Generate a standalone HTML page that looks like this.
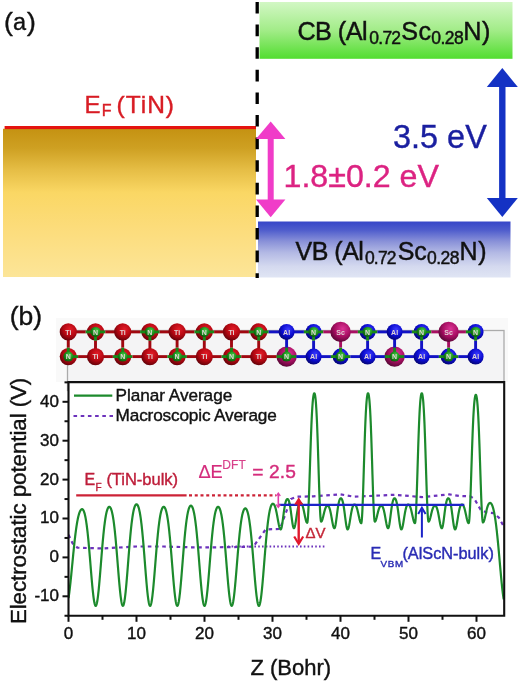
<!DOCTYPE html>
<html><head><meta charset="utf-8"><style>
html,body{margin:0;padding:0;background:#fff;}
svg{display:block;font-family:'Liberation Sans', Arial, sans-serif;}
</style></head><body>
<svg width="520" height="683" viewBox="0 0 520 683">
<defs>
<linearGradient id="gold" x1="0" y1="0" x2="0" y2="1">
 <stop offset="0" stop-color="#c59212"/>
 <stop offset="0.13" stop-color="#cea022"/>
 <stop offset="0.28" stop-color="#e6be46"/>
 <stop offset="0.43" stop-color="#fad764"/>
 <stop offset="0.66" stop-color="#fcdc7a"/>
 <stop offset="1" stop-color="#fce598"/>
</linearGradient>
<linearGradient id="cbg" x1="0" y1="0" x2="0" y2="1">
 <stop offset="0" stop-color="#d2f7c4"/>
 <stop offset="0.5" stop-color="#a2ec88"/>
 <stop offset="1" stop-color="#52dd30"/>
</linearGradient>
<linearGradient id="vbg" x1="0" y1="0" x2="0" y2="1">
 <stop offset="0" stop-color="#3646c8"/>
 <stop offset="0.15" stop-color="#4e5ccc"/>
 <stop offset="0.35" stop-color="#8890d8"/>
 <stop offset="0.55" stop-color="#b2b8e4"/>
 <stop offset="0.8" stop-color="#d4d9ef"/>
 <stop offset="1" stop-color="#e0e5f4"/>
</linearGradient>
<radialGradient id="gTi" cx="0.6" cy="0.35" r="0.7">
 <stop offset="0" stop-color="#e41c28"/>
 <stop offset="0.55" stop-color="#b40812"/>
 <stop offset="1" stop-color="#5c0008"/>
</radialGradient>
<radialGradient id="gN" cx="0.6" cy="0.35" r="0.7">
 <stop offset="0" stop-color="#48d048"/>
 <stop offset="0.6" stop-color="#188818"/>
 <stop offset="1" stop-color="#0a500a"/>
</radialGradient>
<radialGradient id="gAl" cx="0.6" cy="0.35" r="0.7">
 <stop offset="0" stop-color="#3a3aff"/>
 <stop offset="0.55" stop-color="#0c0cd0"/>
 <stop offset="1" stop-color="#04046a"/>
</radialGradient>
<radialGradient id="gSc" cx="0.6" cy="0.35" r="0.7">
 <stop offset="0" stop-color="#dc3496"/>
 <stop offset="0.55" stop-color="#a80e62"/>
 <stop offset="1" stop-color="#4e0630"/>
</radialGradient>
</defs>
<text x="3.90" y="30.80" font-size="26.5" fill="#111" stroke="#111" stroke-width="0.4">(</text>
<text x="12.90" y="30.30" font-size="23.5" fill="#111" stroke="#111" stroke-width="0.4">a</text>
<text x="26.90" y="30.80" font-size="26.5" fill="#111" stroke="#111" stroke-width="0.4">)</text>
<rect x="3" y="128.8" width="253" height="148.2" fill="url(#gold)"/>
<rect x="4.6" y="126" width="251.4" height="3.1" fill="#e41410"/>
<text x="84.60" y="112.80" font-size="24" fill="#d81c24" stroke="#d81c24" stroke-width="0.4">E</text>
<text x="101.80" y="116.20" font-size="16" fill="#d81c24" stroke="#d81c24" stroke-width="0.4">F</text>
<text x="116.50" y="113.00" font-size="24.5" fill="#d81c24" stroke="#d81c24" stroke-width="0.4" textLength="57.50">(TiN)</text>
<rect x="259.5" y="2" width="253" height="56.8" fill="url(#cbg)"/>
<text x="297.40" y="40.40" font-size="25.2" fill="#111" textLength="70.20" stroke="#111" stroke-width="0.45">CB (Al</text>
<text x="369.30" y="43.90" font-size="17.5" fill="#111" textLength="31.80" stroke="#111" stroke-width="0.45">0.72</text>
<text x="401.20" y="40.40" font-size="25.2" fill="#111" textLength="29.80" stroke="#111" stroke-width="0.45">Sc</text>
<text x="431.20" y="43.90" font-size="17.5" fill="#111" textLength="32.50" stroke="#111" stroke-width="0.45">0.28</text>
<text x="463.30" y="40.40" font-size="25.2" fill="#111" textLength="27.00" stroke="#111" stroke-width="0.45">N)</text>
<rect x="258" y="221.5" width="252.5" height="56" fill="url(#vbg)"/>
<text x="295.50" y="260.40" font-size="25.0" fill="#111" textLength="68.40" stroke="#111" stroke-width="0.45">VB (Al</text>
<text x="364.90" y="264.20" font-size="17.5" fill="#111" textLength="31.70" stroke="#111" stroke-width="0.45">0.72</text>
<text x="397.70" y="260.40" font-size="25.0" fill="#111" textLength="29.00" stroke="#111" stroke-width="0.45">Sc</text>
<text x="427.00" y="264.20" font-size="17.5" fill="#111" textLength="32.40" stroke="#111" stroke-width="0.45">0.28</text>
<text x="459.50" y="260.40" font-size="25.0" fill="#111" textLength="27.00" stroke="#111" stroke-width="0.45">N)</text>
<line x1="257.2" y1="2" x2="257.2" y2="278" stroke="#000" stroke-width="3.3" stroke-dasharray="11.6 11"/>
<rect x="499.1" y="85" width="6.4" height="114" fill="#1432c4"/>
<polygon points="502.3,68 517.8,87 486.8,87" fill="#1432c4"/>
<polygon points="502.3,217 517.8,198 486.8,198" fill="#1432c4"/>
<text x="393.10" y="148.20" font-size="32.4" fill="#1a1fa0" stroke="#1a1fa0" stroke-width="0.4">3.5 eV</text>
<rect x="267.7" y="137" width="6" height="64" fill="#f03cc8"/>
<polygon points="270.7,121.4 285.4,139 256.0,139" fill="#f03cc8"/>
<polygon points="270.7,217.2 285.4,199.6 256.0,199.6" fill="#f03cc8"/>
<text x="283.50" y="186.90" font-size="32.2" fill="#dc2382" stroke="#dc2382" stroke-width="0.4">1.8±0.2 eV</text>
<text x="9.80" y="325.40" font-size="26.5" fill="#111" stroke="#111" stroke-width="0.4">(b)</text>
<rect x="56" y="318" width="452" height="64" fill="#f9f9f9"/>
<rect x="67.5" y="330.5" width="436.5" height="60" fill="#f4f4f5" stroke="#ababab" stroke-width="1.3"/>
<circle cx="68.3" cy="356.6" r="8.6" fill="url(#gTi)"/>
<circle cx="95.5" cy="331.9" r="8.6" fill="url(#gTi)"/>
<circle cx="122.7" cy="356.6" r="8.6" fill="url(#gTi)"/>
<circle cx="149.9" cy="331.9" r="8.6" fill="url(#gTi)"/>
<circle cx="177.1" cy="356.6" r="8.6" fill="url(#gTi)"/>
<circle cx="204.3" cy="331.9" r="8.6" fill="url(#gTi)"/>
<circle cx="231.5" cy="356.6" r="8.6" fill="url(#gTi)"/>
<circle cx="258.7" cy="331.9" r="8.6" fill="url(#gTi)"/>
<circle cx="286.6" cy="356.6" r="10.2" fill="url(#gSc)"/>
<circle cx="313.6" cy="331.9" r="8.0" fill="url(#gAl)"/>
<circle cx="340.6" cy="356.6" r="8.0" fill="url(#gAl)"/>
<circle cx="367.6" cy="331.9" r="8.0" fill="url(#gAl)"/>
<circle cx="394.6" cy="356.6" r="10.2" fill="url(#gSc)"/>
<circle cx="421.6" cy="331.9" r="8.0" fill="url(#gAl)"/>
<circle cx="448.6" cy="356.6" r="8.0" fill="url(#gAl)"/>
<circle cx="475.6" cy="331.9" r="8.0" fill="url(#gAl)"/>
<line x1="68.3" y1="331.9" x2="68.3" y2="347.708" stroke="#a00810" stroke-width="2.9"/>
<line x1="68.3" y1="347.708" x2="68.3" y2="356.6" stroke="#188818" stroke-width="2.9"/>
<line x1="68.3" y1="331.9" x2="85.7" y2="331.9" stroke="#a00810" stroke-width="2.9"/>
<line x1="85.7" y1="331.9" x2="95.5" y2="331.9" stroke="#188818" stroke-width="2.9"/>
<line x1="68.3" y1="356.6" x2="78.1" y2="356.6" stroke="#188818" stroke-width="2.9"/>
<line x1="78.1" y1="356.6" x2="95.5" y2="356.6" stroke="#a00810" stroke-width="2.9"/>
<line x1="95.5" y1="331.9" x2="95.5" y2="340.792" stroke="#188818" stroke-width="2.9"/>
<line x1="95.5" y1="340.792" x2="95.5" y2="356.6" stroke="#a00810" stroke-width="2.9"/>
<line x1="95.5" y1="331.9" x2="105.3" y2="331.9" stroke="#188818" stroke-width="2.9"/>
<line x1="105.3" y1="331.9" x2="122.7" y2="331.9" stroke="#a00810" stroke-width="2.9"/>
<line x1="95.5" y1="356.6" x2="112.9" y2="356.6" stroke="#a00810" stroke-width="2.9"/>
<line x1="112.9" y1="356.6" x2="122.7" y2="356.6" stroke="#188818" stroke-width="2.9"/>
<line x1="122.7" y1="331.9" x2="122.7" y2="347.708" stroke="#a00810" stroke-width="2.9"/>
<line x1="122.7" y1="347.708" x2="122.7" y2="356.6" stroke="#188818" stroke-width="2.9"/>
<line x1="122.7" y1="331.9" x2="140.1" y2="331.9" stroke="#a00810" stroke-width="2.9"/>
<line x1="140.1" y1="331.9" x2="149.9" y2="331.9" stroke="#188818" stroke-width="2.9"/>
<line x1="122.7" y1="356.6" x2="132.5" y2="356.6" stroke="#188818" stroke-width="2.9"/>
<line x1="132.5" y1="356.6" x2="149.9" y2="356.6" stroke="#a00810" stroke-width="2.9"/>
<line x1="149.9" y1="331.9" x2="149.9" y2="340.792" stroke="#188818" stroke-width="2.9"/>
<line x1="149.9" y1="340.792" x2="149.9" y2="356.6" stroke="#a00810" stroke-width="2.9"/>
<line x1="149.9" y1="331.9" x2="159.7" y2="331.9" stroke="#188818" stroke-width="2.9"/>
<line x1="159.7" y1="331.9" x2="177.1" y2="331.9" stroke="#a00810" stroke-width="2.9"/>
<line x1="149.9" y1="356.6" x2="167.3" y2="356.6" stroke="#a00810" stroke-width="2.9"/>
<line x1="167.3" y1="356.6" x2="177.1" y2="356.6" stroke="#188818" stroke-width="2.9"/>
<line x1="177.1" y1="331.9" x2="177.1" y2="347.708" stroke="#a00810" stroke-width="2.9"/>
<line x1="177.1" y1="347.708" x2="177.1" y2="356.6" stroke="#188818" stroke-width="2.9"/>
<line x1="177.1" y1="331.9" x2="194.5" y2="331.9" stroke="#a00810" stroke-width="2.9"/>
<line x1="194.5" y1="331.9" x2="204.3" y2="331.9" stroke="#188818" stroke-width="2.9"/>
<line x1="177.1" y1="356.6" x2="186.9" y2="356.6" stroke="#188818" stroke-width="2.9"/>
<line x1="186.9" y1="356.6" x2="204.3" y2="356.6" stroke="#a00810" stroke-width="2.9"/>
<line x1="204.3" y1="331.9" x2="204.3" y2="340.792" stroke="#188818" stroke-width="2.9"/>
<line x1="204.3" y1="340.792" x2="204.3" y2="356.6" stroke="#a00810" stroke-width="2.9"/>
<line x1="204.3" y1="331.9" x2="214.1" y2="331.9" stroke="#188818" stroke-width="2.9"/>
<line x1="214.1" y1="331.9" x2="231.5" y2="331.9" stroke="#a00810" stroke-width="2.9"/>
<line x1="204.3" y1="356.6" x2="221.7" y2="356.6" stroke="#a00810" stroke-width="2.9"/>
<line x1="221.7" y1="356.6" x2="231.5" y2="356.6" stroke="#188818" stroke-width="2.9"/>
<line x1="231.5" y1="331.9" x2="231.5" y2="347.708" stroke="#a00810" stroke-width="2.9"/>
<line x1="231.5" y1="347.708" x2="231.5" y2="356.6" stroke="#188818" stroke-width="2.9"/>
<line x1="231.5" y1="331.9" x2="248.9" y2="331.9" stroke="#a00810" stroke-width="2.9"/>
<line x1="248.9" y1="331.9" x2="258.7" y2="331.9" stroke="#188818" stroke-width="2.9"/>
<line x1="231.5" y1="356.6" x2="241.3" y2="356.6" stroke="#188818" stroke-width="2.9"/>
<line x1="241.3" y1="356.6" x2="258.7" y2="356.6" stroke="#a00810" stroke-width="2.9"/>
<line x1="258.7" y1="331.9" x2="258.7" y2="340.792" stroke="#188818" stroke-width="2.9"/>
<line x1="258.7" y1="340.792" x2="258.7" y2="356.6" stroke="#a00810" stroke-width="2.9"/>
<line x1="258.7" y1="331.9" x2="268.7" y2="331.9" stroke="#188818" stroke-width="2.9"/>
<line x1="268.7" y1="331.9" x2="286.6" y2="331.9" stroke="#1212c4" stroke-width="2.9"/>
<line x1="258.7" y1="356.6" x2="276.6" y2="356.6" stroke="#a00810" stroke-width="2.9"/>
<line x1="276.6" y1="356.6" x2="286.6" y2="356.6" stroke="#188818" stroke-width="2.9"/>
<line x1="286.6" y1="331.9" x2="286.6" y2="347.708" stroke="#1212c4" stroke-width="2.9"/>
<line x1="286.6" y1="347.708" x2="286.6" y2="356.6" stroke="#188818" stroke-width="2.9"/>
<line x1="286.6" y1="331.9" x2="303.9" y2="331.9" stroke="#1212c4" stroke-width="2.9"/>
<line x1="303.9" y1="331.9" x2="313.6" y2="331.9" stroke="#188818" stroke-width="2.9"/>
<line x1="286.6" y1="356.6" x2="296.3" y2="356.6" stroke="#188818" stroke-width="2.9"/>
<line x1="296.3" y1="356.6" x2="313.6" y2="356.6" stroke="#1212c4" stroke-width="2.9"/>
<line x1="313.6" y1="331.9" x2="313.6" y2="340.792" stroke="#188818" stroke-width="2.9"/>
<line x1="313.6" y1="340.792" x2="313.6" y2="356.6" stroke="#1212c4" stroke-width="2.9"/>
<line x1="313.6" y1="331.9" x2="323.3" y2="331.9" stroke="#188818" stroke-width="2.9"/>
<line x1="323.3" y1="331.9" x2="340.6" y2="331.9" stroke="#a81062" stroke-width="2.9"/>
<line x1="313.6" y1="356.6" x2="330.9" y2="356.6" stroke="#1212c4" stroke-width="2.9"/>
<line x1="330.9" y1="356.6" x2="340.6" y2="356.6" stroke="#188818" stroke-width="2.9"/>
<line x1="340.6" y1="331.9" x2="340.6" y2="347.708" stroke="#a81062" stroke-width="2.9"/>
<line x1="340.6" y1="347.708" x2="340.6" y2="356.6" stroke="#188818" stroke-width="2.9"/>
<line x1="340.6" y1="331.9" x2="357.9" y2="331.9" stroke="#a81062" stroke-width="2.9"/>
<line x1="357.9" y1="331.9" x2="367.6" y2="331.9" stroke="#188818" stroke-width="2.9"/>
<line x1="340.6" y1="356.6" x2="350.3" y2="356.6" stroke="#188818" stroke-width="2.9"/>
<line x1="350.3" y1="356.6" x2="367.6" y2="356.6" stroke="#1212c4" stroke-width="2.9"/>
<line x1="367.6" y1="331.9" x2="367.6" y2="340.792" stroke="#188818" stroke-width="2.9"/>
<line x1="367.6" y1="340.792" x2="367.6" y2="356.6" stroke="#1212c4" stroke-width="2.9"/>
<line x1="367.6" y1="331.9" x2="377.3" y2="331.9" stroke="#188818" stroke-width="2.9"/>
<line x1="377.3" y1="331.9" x2="394.6" y2="331.9" stroke="#1212c4" stroke-width="2.9"/>
<line x1="367.6" y1="356.6" x2="384.9" y2="356.6" stroke="#1212c4" stroke-width="2.9"/>
<line x1="384.9" y1="356.6" x2="394.6" y2="356.6" stroke="#188818" stroke-width="2.9"/>
<line x1="394.6" y1="331.9" x2="394.6" y2="347.708" stroke="#1212c4" stroke-width="2.9"/>
<line x1="394.6" y1="347.708" x2="394.6" y2="356.6" stroke="#188818" stroke-width="2.9"/>
<line x1="394.6" y1="331.9" x2="411.9" y2="331.9" stroke="#1212c4" stroke-width="2.9"/>
<line x1="411.9" y1="331.9" x2="421.6" y2="331.9" stroke="#188818" stroke-width="2.9"/>
<line x1="394.6" y1="356.6" x2="404.3" y2="356.6" stroke="#188818" stroke-width="2.9"/>
<line x1="404.3" y1="356.6" x2="421.6" y2="356.6" stroke="#1212c4" stroke-width="2.9"/>
<line x1="421.6" y1="331.9" x2="421.6" y2="340.792" stroke="#188818" stroke-width="2.9"/>
<line x1="421.6" y1="340.792" x2="421.6" y2="356.6" stroke="#1212c4" stroke-width="2.9"/>
<line x1="421.6" y1="331.9" x2="431.3" y2="331.9" stroke="#188818" stroke-width="2.9"/>
<line x1="431.3" y1="331.9" x2="448.6" y2="331.9" stroke="#a81062" stroke-width="2.9"/>
<line x1="421.6" y1="356.6" x2="438.9" y2="356.6" stroke="#1212c4" stroke-width="2.9"/>
<line x1="438.9" y1="356.6" x2="448.6" y2="356.6" stroke="#188818" stroke-width="2.9"/>
<line x1="448.6" y1="331.9" x2="448.6" y2="347.708" stroke="#a81062" stroke-width="2.9"/>
<line x1="448.6" y1="347.708" x2="448.6" y2="356.6" stroke="#188818" stroke-width="2.9"/>
<line x1="448.6" y1="331.9" x2="465.9" y2="331.9" stroke="#a81062" stroke-width="2.9"/>
<line x1="465.9" y1="331.9" x2="475.6" y2="331.9" stroke="#188818" stroke-width="2.9"/>
<line x1="448.6" y1="356.6" x2="458.3" y2="356.6" stroke="#188818" stroke-width="2.9"/>
<line x1="458.3" y1="356.6" x2="475.6" y2="356.6" stroke="#1212c4" stroke-width="2.9"/>
<line x1="475.6" y1="331.9" x2="475.6" y2="340.792" stroke="#188818" stroke-width="2.9"/>
<line x1="475.6" y1="340.792" x2="475.6" y2="356.6" stroke="#1212c4" stroke-width="2.9"/>
<circle cx="68.3" cy="331.9" r="8.6" fill="url(#gTi)"/>
<text x="68.3" y="334.5" font-size="7" font-weight="bold" fill="#e0d4d4" text-anchor="middle">Ti</text>
<circle cx="68.3" cy="356.6" r="5.0" fill="url(#gN)"/>
<text x="68.3" y="359.20000000000005" font-size="7" font-weight="bold" fill="#e0d4d4" text-anchor="middle">N</text>
<circle cx="95.5" cy="331.9" r="5.0" fill="url(#gN)"/>
<text x="95.5" y="334.5" font-size="7" font-weight="bold" fill="#e0d4d4" text-anchor="middle">N</text>
<circle cx="95.5" cy="356.6" r="8.6" fill="url(#gTi)"/>
<text x="95.5" y="359.20000000000005" font-size="7" font-weight="bold" fill="#e0d4d4" text-anchor="middle">Ti</text>
<circle cx="122.7" cy="331.9" r="8.6" fill="url(#gTi)"/>
<text x="122.7" y="334.5" font-size="7" font-weight="bold" fill="#e0d4d4" text-anchor="middle">Ti</text>
<circle cx="122.7" cy="356.6" r="5.0" fill="url(#gN)"/>
<text x="122.7" y="359.20000000000005" font-size="7" font-weight="bold" fill="#e0d4d4" text-anchor="middle">N</text>
<circle cx="149.9" cy="331.9" r="5.0" fill="url(#gN)"/>
<text x="149.9" y="334.5" font-size="7" font-weight="bold" fill="#e0d4d4" text-anchor="middle">N</text>
<circle cx="149.9" cy="356.6" r="8.6" fill="url(#gTi)"/>
<text x="149.9" y="359.20000000000005" font-size="7" font-weight="bold" fill="#e0d4d4" text-anchor="middle">Ti</text>
<circle cx="177.1" cy="331.9" r="8.6" fill="url(#gTi)"/>
<text x="177.1" y="334.5" font-size="7" font-weight="bold" fill="#e0d4d4" text-anchor="middle">Ti</text>
<circle cx="177.1" cy="356.6" r="5.0" fill="url(#gN)"/>
<text x="177.1" y="359.20000000000005" font-size="7" font-weight="bold" fill="#e0d4d4" text-anchor="middle">N</text>
<circle cx="204.3" cy="331.9" r="5.0" fill="url(#gN)"/>
<text x="204.3" y="334.5" font-size="7" font-weight="bold" fill="#e0d4d4" text-anchor="middle">N</text>
<circle cx="204.3" cy="356.6" r="8.6" fill="url(#gTi)"/>
<text x="204.3" y="359.20000000000005" font-size="7" font-weight="bold" fill="#e0d4d4" text-anchor="middle">Ti</text>
<circle cx="231.5" cy="331.9" r="8.6" fill="url(#gTi)"/>
<text x="231.5" y="334.5" font-size="7" font-weight="bold" fill="#e0d4d4" text-anchor="middle">Ti</text>
<circle cx="231.5" cy="356.6" r="5.0" fill="url(#gN)"/>
<text x="231.5" y="359.20000000000005" font-size="7" font-weight="bold" fill="#e0d4d4" text-anchor="middle">N</text>
<circle cx="258.7" cy="331.9" r="5.0" fill="url(#gN)"/>
<text x="258.7" y="334.5" font-size="7" font-weight="bold" fill="#e0d4d4" text-anchor="middle">N</text>
<circle cx="258.7" cy="356.6" r="8.6" fill="url(#gTi)"/>
<text x="258.7" y="359.20000000000005" font-size="7" font-weight="bold" fill="#e0d4d4" text-anchor="middle">Ti</text>
<circle cx="286.6" cy="331.9" r="8.0" fill="url(#gAl)"/>
<text x="286.6" y="334.5" font-size="7" font-weight="bold" fill="#e0d4d4" text-anchor="middle">Al</text>
<circle cx="286.6" cy="356.6" r="5.0" fill="url(#gN)"/>
<text x="286.6" y="359.20000000000005" font-size="7" font-weight="bold" fill="#e0d4d4" text-anchor="middle">N</text>
<circle cx="313.6" cy="331.9" r="5.0" fill="url(#gN)"/>
<text x="313.6" y="334.5" font-size="7" font-weight="bold" fill="#e0d4d4" text-anchor="middle">N</text>
<circle cx="313.6" cy="356.6" r="8.0" fill="url(#gAl)"/>
<text x="313.6" y="359.20000000000005" font-size="7" font-weight="bold" fill="#e0d4d4" text-anchor="middle">Al</text>
<circle cx="340.6" cy="331.9" r="10.2" fill="url(#gSc)"/>
<text x="340.6" y="334.5" font-size="7" font-weight="bold" fill="#e0d4d4" text-anchor="middle">Sc</text>
<circle cx="340.6" cy="356.6" r="5.0" fill="url(#gN)"/>
<text x="340.6" y="359.20000000000005" font-size="7" font-weight="bold" fill="#e0d4d4" text-anchor="middle">N</text>
<circle cx="367.6" cy="331.9" r="5.0" fill="url(#gN)"/>
<text x="367.6" y="334.5" font-size="7" font-weight="bold" fill="#e0d4d4" text-anchor="middle">N</text>
<circle cx="367.6" cy="356.6" r="8.0" fill="url(#gAl)"/>
<text x="367.6" y="359.20000000000005" font-size="7" font-weight="bold" fill="#e0d4d4" text-anchor="middle">Al</text>
<circle cx="394.6" cy="331.9" r="8.0" fill="url(#gAl)"/>
<text x="394.6" y="334.5" font-size="7" font-weight="bold" fill="#e0d4d4" text-anchor="middle">Al</text>
<circle cx="394.6" cy="356.6" r="5.0" fill="url(#gN)"/>
<text x="394.6" y="359.20000000000005" font-size="7" font-weight="bold" fill="#e0d4d4" text-anchor="middle">N</text>
<circle cx="421.6" cy="331.9" r="5.0" fill="url(#gN)"/>
<text x="421.6" y="334.5" font-size="7" font-weight="bold" fill="#e0d4d4" text-anchor="middle">N</text>
<circle cx="421.6" cy="356.6" r="8.0" fill="url(#gAl)"/>
<text x="421.6" y="359.20000000000005" font-size="7" font-weight="bold" fill="#e0d4d4" text-anchor="middle">Al</text>
<circle cx="448.6" cy="331.9" r="10.2" fill="url(#gSc)"/>
<text x="448.6" y="334.5" font-size="7" font-weight="bold" fill="#e0d4d4" text-anchor="middle">Sc</text>
<circle cx="448.6" cy="356.6" r="5.0" fill="url(#gN)"/>
<text x="448.6" y="359.20000000000005" font-size="7" font-weight="bold" fill="#e0d4d4" text-anchor="middle">N</text>
<circle cx="475.6" cy="331.9" r="5.0" fill="url(#gN)"/>
<text x="475.6" y="334.5" font-size="7" font-weight="bold" fill="#e0d4d4" text-anchor="middle">N</text>
<circle cx="475.6" cy="356.6" r="8.0" fill="url(#gAl)"/>
<text x="475.6" y="359.20000000000005" font-size="7" font-weight="bold" fill="#e0d4d4" text-anchor="middle">Al</text>
<rect x="68.5" y="381.5" width="435.5" height="234.5" fill="#fff"/>
<clipPath id="pc"><rect x="68.5" y="381.5" width="435.5" height="234.3"/></clipPath>
<g clip-path="url(#pc)">
<polyline fill="none" stroke="#6c32bc" stroke-width="2.2" stroke-dasharray="3.6 3.6" points="68.50,534.84 72.58,543.40 77.34,547.67 88.90,548.06 102.50,548.45 122.90,547.29 136.50,546.51 163.70,546.51 190.90,547.29 218.10,547.29 245.30,546.90 253.46,546.51 265.70,529.39 279.98,529.00 290.86,499.05 296.30,496.72 313.30,496.33 340.50,494.38 354.10,496.72 394.90,494.77 422.10,497.10 449.30,494.38 459.50,495.94 470.38,496.33 474.46,499.05 480.58,509.55 486.02,512.28 493.50,513.05 498.94,517.72 503.70,526.28"/>
<line x1="76.2" y1="495.3" x2="186.6" y2="495.3" stroke="#cc2236" stroke-width="2.2"/>
<line x1="189" y1="495.4" x2="276" y2="495.4" stroke="#cc2236" stroke-width="2.2" stroke-dasharray="3 2.75"/>
<line x1="224" y1="546.6" x2="325" y2="546.6" stroke="#6c32bc" stroke-width="2" stroke-dasharray="1.6 2.2"/>
<polyline fill="none" stroke="#1c8a2c" stroke-width="2.2" stroke-linejoin="round" points="68.50,598.10 68.67,597.04 68.83,595.93 69.00,594.76 69.17,593.54 69.34,592.26 69.50,590.94 69.67,589.56 69.84,588.15 70.01,586.69 70.17,585.19 70.34,583.66 70.51,582.09 70.68,580.49 70.84,578.87 71.01,577.22 71.18,575.55 71.35,573.86 71.51,572.16 71.68,570.44 71.85,568.72 72.02,566.99 72.18,565.25 72.35,563.52 72.52,561.78 72.68,560.05 72.85,558.33 73.02,556.61 73.19,554.91 73.35,553.22 73.52,551.55 73.69,549.89 73.86,548.26 74.02,546.65 74.19,545.06 74.36,543.50 74.53,541.96 74.69,540.46 74.86,538.98 75.03,537.54 75.20,536.13 75.36,534.75 75.53,533.41 75.70,532.10 75.86,530.83 76.03,529.60 76.20,528.41 76.37,527.25 76.53,526.13 76.70,525.05 76.87,524.01 77.04,523.00 77.20,522.04 77.37,521.11 77.54,520.23 77.71,519.38 77.87,518.56 78.04,517.79 78.21,517.05 78.38,516.35 78.54,515.69 78.71,515.06 78.88,514.47 79.05,513.91 79.21,513.38 79.38,512.89 79.55,512.43 79.71,512.01 79.88,511.61 80.05,511.25 80.22,510.92 80.38,510.61 80.55,510.34 80.72,510.10 80.89,509.88 81.05,509.70 81.22,509.54 81.39,509.41 81.56,509.31 81.72,509.23 81.89,509.19 82.06,509.16 82.23,509.17 82.39,509.22 82.56,509.31 82.73,509.43 82.90,509.59 83.06,509.79 83.23,510.03 83.40,510.31 83.56,510.63 83.73,510.99 83.90,511.39 84.07,511.83 84.23,512.32 84.40,512.85 84.57,513.43 84.74,514.06 84.90,514.73 85.07,515.45 85.24,516.22 85.41,517.04 85.57,517.91 85.74,518.83 85.91,519.80 86.08,520.83 86.24,521.91 86.41,523.04 86.58,524.22 86.74,525.46 86.91,526.75 87.08,528.10 87.25,529.50 87.41,530.95 87.58,532.45 87.75,534.00 87.92,535.60 88.08,537.25 88.25,538.94 88.42,540.68 88.59,542.46 88.75,544.28 88.92,546.13 89.09,548.02 89.26,549.94 89.42,551.89 89.59,553.87 89.76,555.86 89.93,557.88 90.09,559.90 90.26,561.94 90.43,563.98 90.59,566.03 90.76,568.07 90.93,570.10 91.10,572.13 91.26,574.13 91.43,576.11 91.60,578.07 91.77,580.00 91.93,581.89 92.10,583.74 92.27,585.54 92.44,587.29 92.60,588.99 92.77,590.63 92.94,592.21 93.11,593.72 93.27,595.15 93.44,596.51 93.61,597.79 93.78,598.98 93.94,600.09 94.11,601.11 94.28,602.03 94.44,602.86 94.61,603.59 94.78,604.22 94.95,604.75 95.11,605.18 95.28,605.50 95.45,605.71 95.62,605.82 95.78,605.82 95.95,605.71 96.12,605.49 96.29,605.16 96.45,604.73 96.62,604.19 96.79,603.54 96.96,602.79 97.12,601.94 97.29,601.00 97.46,599.95 97.62,598.82 97.79,597.59 97.96,596.29 98.13,594.89 98.29,593.42 98.46,591.88 98.63,590.27 98.80,588.59 98.96,586.85 99.13,585.05 99.30,583.20 99.47,581.31 99.63,579.37 99.80,577.40 99.97,575.40 100.14,573.37 100.30,571.31 100.47,569.24 100.64,567.16 100.81,565.07 100.97,562.97 101.14,560.88 101.31,558.79 101.47,556.72 101.64,554.66 101.81,552.61 101.98,550.59 102.14,548.59 102.31,546.63 102.48,544.69 102.65,542.79 102.81,540.93 102.98,539.11 103.15,537.33 103.32,535.59 103.48,533.90 103.65,532.27 103.82,530.68 103.99,529.14 104.15,527.66 104.32,526.22 104.49,524.85 104.66,523.52 104.82,522.25 104.99,521.04 105.16,519.88 105.32,518.78 105.49,517.72 105.66,516.73 105.83,515.78 105.99,514.89 106.16,514.05 106.33,513.27 106.50,512.53 106.66,511.84 106.83,511.20 107.00,510.61 107.17,510.06 107.33,509.56 107.50,509.11 107.67,508.70 107.84,508.33 108.00,508.00 108.17,507.72 108.34,507.47 108.50,507.27 108.67,507.10 108.84,506.98 109.01,506.89 109.17,506.84 109.34,506.83 109.51,506.86 109.68,506.93 109.84,507.03 110.01,507.18 110.18,507.36 110.35,507.59 110.51,507.85 110.68,508.16 110.85,508.51 111.02,508.90 111.18,509.33 111.35,509.81 111.52,510.33 111.69,510.90 111.85,511.52 112.02,512.18 112.19,512.89 112.35,513.65 112.52,514.47 112.69,515.33 112.86,516.25 113.02,517.22 113.19,518.24 113.36,519.32 113.53,520.45 113.69,521.64 113.86,522.88 114.03,524.18 114.20,525.53 114.36,526.93 114.53,528.39 114.70,529.90 114.87,531.47 115.03,533.08 115.20,534.74 115.37,536.45 115.54,538.21 115.70,540.01 115.87,541.85 116.04,543.73 116.20,545.65 116.37,547.61 116.54,549.59 116.71,551.60 116.87,553.63 117.04,555.68 117.21,557.75 117.38,559.84 117.54,561.93 117.71,564.02 117.88,566.11 118.05,568.20 118.21,570.28 118.38,572.34 118.55,574.38 118.72,576.40 118.88,578.39 119.05,580.35 119.22,582.26 119.38,584.13 119.55,585.96 119.72,587.72 119.89,589.43 120.05,591.08 120.22,592.66 120.39,594.17 120.56,595.60 120.72,596.95 120.89,598.22 121.06,599.40 121.23,600.49 121.39,601.48 121.56,602.38 121.73,603.18 121.90,603.88 122.06,604.47 122.23,604.96 122.40,605.34 122.57,605.61 122.73,605.78 122.90,605.83 123.07,605.77 123.23,605.61 123.40,605.33 123.57,604.94 123.74,604.44 123.90,603.83 124.07,603.11 124.24,602.29 124.41,601.37 124.57,600.35 124.74,599.23 124.91,598.02 125.08,596.72 125.24,595.34 125.41,593.87 125.58,592.32 125.75,590.70 125.91,589.02 126.08,587.26 126.25,585.45 126.42,583.58 126.58,581.66 126.75,579.70 126.92,577.69 127.08,575.65 127.25,573.58 127.42,571.49 127.59,569.37 127.75,567.24 127.92,565.10 128.09,562.95 128.26,560.81 128.42,558.66 128.59,556.53 128.76,554.40 128.93,552.30 129.09,550.21 129.26,548.15 129.43,546.12 129.60,544.12 129.76,542.15 129.93,540.22 130.10,538.33 130.26,536.48 130.43,534.68 130.60,532.93 130.77,531.22 130.93,529.57 131.10,527.96 131.27,526.41 131.44,524.92 131.60,523.48 131.77,522.09 131.94,520.76 132.11,519.49 132.27,518.27 132.44,517.11 132.61,516.01 132.78,514.96 132.94,513.96 133.11,513.02 133.28,512.13 133.45,511.30 133.61,510.52 133.78,509.79 133.95,509.11 134.11,508.47 134.28,507.89 134.45,507.36 134.62,506.87 134.78,506.42 134.95,506.02 135.12,505.66 135.29,505.35 135.45,505.08 135.62,504.85 135.79,504.66 135.96,504.51 136.12,504.40 136.29,504.33 136.46,504.30 136.63,504.31 136.79,504.36 136.96,504.45 137.13,504.58 137.30,504.75 137.46,504.96 137.63,505.21 137.80,505.50 137.96,505.84 138.13,506.22 138.30,506.64 138.47,507.10 138.63,507.62 138.80,508.18 138.97,508.78 139.14,509.44 139.30,510.15 139.47,510.90 139.64,511.71 139.81,512.57 139.97,513.48 140.14,514.45 140.31,515.47 140.48,516.55 140.64,517.68 140.81,518.87 140.98,520.12 141.14,521.42 141.31,522.78 141.48,524.19 141.65,525.66 141.81,527.18 141.98,528.76 142.15,530.39 142.32,532.07 142.48,533.80 142.65,535.58 142.82,537.40 142.99,539.27 143.15,541.18 143.32,543.13 143.49,545.11 143.66,547.13 143.82,549.18 143.99,551.25 144.16,553.35 144.33,555.46 144.49,557.59 144.66,559.73 144.83,561.88 144.99,564.03 145.16,566.17 145.33,568.31 145.50,570.43 145.66,572.54 145.83,574.62 146.00,576.68 146.17,578.70 146.33,580.68 146.50,582.63 146.67,584.52 146.84,586.36 147.00,588.15 147.17,589.87 147.34,591.52 147.51,593.11 147.67,594.61 147.84,596.04 148.01,597.38 148.18,598.64 148.34,599.80 148.51,600.87 148.68,601.84 148.84,602.71 149.01,603.48 149.18,604.14 149.35,604.70 149.51,605.14 149.68,605.48 149.85,605.70 150.02,605.82 150.18,605.82 150.35,605.71 150.52,605.49 150.69,605.16 150.85,604.73 151.02,604.19 151.19,603.54 151.36,602.79 151.52,601.94 151.69,601.00 151.86,599.95 152.02,598.82 152.19,597.59 152.36,596.29 152.53,594.89 152.69,593.42 152.86,591.88 153.03,590.27 153.20,588.59 153.36,586.85 153.53,585.05 153.70,583.20 153.87,581.31 154.03,579.37 154.20,577.40 154.37,575.40 154.54,573.37 154.70,571.31 154.87,569.24 155.04,567.16 155.21,565.07 155.37,562.97 155.54,560.88 155.71,558.79 155.87,556.72 156.04,554.66 156.21,552.61 156.38,550.59 156.54,548.59 156.71,546.63 156.88,544.69 157.05,542.79 157.21,540.93 157.38,539.11 157.55,537.33 157.72,535.59 157.88,533.90 158.05,532.27 158.22,530.68 158.39,529.14 158.55,527.66 158.72,526.22 158.89,524.85 159.06,523.52 159.22,522.25 159.39,521.04 159.56,519.88 159.72,518.78 159.89,517.72 160.06,516.73 160.23,515.78 160.39,514.89 160.56,514.05 160.73,513.27 160.90,512.53 161.06,511.84 161.23,511.20 161.40,510.61 161.57,510.06 161.73,509.56 161.90,509.11 162.07,508.70 162.24,508.33 162.40,508.00 162.57,507.72 162.74,507.47 162.90,507.27 163.07,507.10 163.24,506.98 163.41,506.89 163.57,506.84 163.74,506.83 163.91,506.86 164.08,506.93 164.24,507.03 164.41,507.18 164.58,507.36 164.75,507.59 164.91,507.85 165.08,508.16 165.25,508.51 165.42,508.90 165.58,509.33 165.75,509.81 165.92,510.33 166.09,510.90 166.25,511.52 166.42,512.18 166.59,512.89 166.75,513.65 166.92,514.47 167.09,515.33 167.26,516.25 167.42,517.22 167.59,518.24 167.76,519.32 167.93,520.45 168.09,521.64 168.26,522.88 168.43,524.18 168.60,525.53 168.76,526.93 168.93,528.39 169.10,529.90 169.27,531.47 169.43,533.08 169.60,534.74 169.77,536.45 169.94,538.21 170.10,540.01 170.27,541.85 170.44,543.73 170.60,545.65 170.77,547.61 170.94,549.59 171.11,551.60 171.27,553.63 171.44,555.68 171.61,557.75 171.78,559.84 171.94,561.93 172.11,564.02 172.28,566.11 172.45,568.20 172.61,570.28 172.78,572.34 172.95,574.38 173.12,576.40 173.28,578.39 173.45,580.35 173.62,582.26 173.78,584.13 173.95,585.96 174.12,587.72 174.29,589.43 174.45,591.08 174.62,592.66 174.79,594.17 174.96,595.60 175.12,596.95 175.29,598.22 175.46,599.40 175.63,600.49 175.79,601.48 175.96,602.38 176.13,603.18 176.30,603.88 176.46,604.47 176.63,604.96 176.80,605.34 176.97,605.61 177.13,605.78 177.30,605.83 177.47,605.78 177.63,605.61 177.80,605.33 177.97,604.95 178.14,604.45 178.30,603.85 178.47,603.15 178.64,602.34 178.81,601.43 178.97,600.42 179.14,599.32 179.31,598.13 179.48,596.85 179.64,595.48 179.81,594.03 179.98,592.51 180.15,590.91 180.31,589.24 180.48,587.51 180.65,585.72 180.82,583.88 180.98,581.98 181.15,580.05 181.32,578.07 181.48,576.06 181.65,574.01 181.82,571.95 181.99,569.86 182.15,567.76 182.32,565.65 182.49,563.53 182.66,561.41 182.82,559.29 182.99,557.19 183.16,555.09 183.33,553.02 183.49,550.96 183.66,548.92 183.83,546.92 184.00,544.94 184.16,543.00 184.33,541.10 184.50,539.23 184.66,537.41 184.83,535.64 185.00,533.90 185.17,532.22 185.33,530.59 185.50,529.01 185.67,527.48 185.84,526.00 186.00,524.58 186.17,523.21 186.34,521.90 186.51,520.65 186.67,519.45 186.84,518.30 187.01,517.21 187.18,516.17 187.34,515.19 187.51,514.27 187.68,513.39 187.85,512.57 188.01,511.80 188.18,511.08 188.35,510.40 188.51,509.78 188.68,509.20 188.85,508.68 189.02,508.19 189.18,507.75 189.35,507.36 189.52,507.01 189.69,506.70 189.85,506.43 190.02,506.20 190.19,506.02 190.36,505.87 190.52,505.76 190.69,505.69 190.86,505.66 191.03,505.67 191.19,505.72 191.36,505.81 191.53,505.94 191.70,506.10 191.86,506.31 192.03,506.56 192.20,506.85 192.36,507.18 192.53,507.55 192.70,507.97 192.87,508.43 193.03,508.93 193.20,509.49 193.37,510.09 193.54,510.73 193.70,511.43 193.87,512.18 194.04,512.97 194.21,513.82 194.37,514.72 194.54,515.68 194.71,516.69 194.88,517.75 195.04,518.87 195.21,520.04 195.38,521.27 195.54,522.55 195.71,523.89 195.88,525.29 196.05,526.73 196.21,528.24 196.38,529.79 196.55,531.40 196.72,533.06 196.88,534.76 197.05,536.52 197.22,538.32 197.39,540.16 197.55,542.05 197.72,543.97 197.89,545.93 198.06,547.92 198.22,549.94 198.39,551.98 198.56,554.05 198.73,556.14 198.89,558.24 199.06,560.35 199.23,562.47 199.39,564.59 199.56,566.70 199.73,568.81 199.90,570.91 200.06,572.98 200.23,575.04 200.40,577.07 200.57,579.06 200.73,581.02 200.90,582.94 201.07,584.81 201.24,586.62 201.40,588.38 201.57,590.08 201.74,591.72 201.91,593.28 202.07,594.76 202.24,596.17 202.41,597.50 202.58,598.74 202.74,599.88 202.91,600.94 203.08,601.90 203.24,602.76 203.41,603.51 203.58,604.17 203.75,604.71 203.91,605.15 204.08,605.48 204.25,605.71 204.42,605.82 204.58,605.82 204.75,605.71 204.92,605.49 205.09,605.16 205.25,604.73 205.42,604.19 205.59,603.54 205.76,602.79 205.92,601.94 206.09,601.00 206.26,599.95 206.42,598.82 206.59,597.59 206.76,596.29 206.93,594.89 207.09,593.42 207.26,591.88 207.43,590.27 207.60,588.59 207.76,586.85 207.93,585.05 208.10,583.20 208.27,581.31 208.43,579.37 208.60,577.40 208.77,575.40 208.94,573.37 209.10,571.31 209.27,569.24 209.44,567.16 209.61,565.07 209.77,562.97 209.94,560.88 210.11,558.79 210.27,556.72 210.44,554.66 210.61,552.61 210.78,550.59 210.94,548.59 211.11,546.63 211.28,544.69 211.45,542.79 211.61,540.93 211.78,539.11 211.95,537.33 212.12,535.59 212.28,533.90 212.45,532.27 212.62,530.68 212.79,529.14 212.95,527.66 213.12,526.22 213.29,524.85 213.46,523.52 213.62,522.25 213.79,521.04 213.96,519.88 214.12,518.78 214.29,517.72 214.46,516.73 214.63,515.78 214.79,514.89 214.96,514.05 215.13,513.27 215.30,512.53 215.46,511.84 215.63,511.20 215.80,510.61 215.97,510.06 216.13,509.56 216.30,509.11 216.47,508.70 216.64,508.33 216.80,508.00 216.97,507.72 217.14,507.47 217.30,507.27 217.47,507.10 217.64,506.98 217.81,506.89 217.97,506.84 218.14,506.83 218.31,506.86 218.48,506.93 218.64,507.03 218.81,507.18 218.98,507.36 219.15,507.59 219.31,507.85 219.48,508.16 219.65,508.51 219.82,508.90 219.98,509.33 220.15,509.81 220.32,510.33 220.49,510.90 220.65,511.52 220.82,512.18 220.99,512.89 221.15,513.65 221.32,514.47 221.49,515.33 221.66,516.25 221.82,517.22 221.99,518.24 222.16,519.32 222.33,520.45 222.49,521.64 222.66,522.88 222.83,524.18 223.00,525.53 223.16,526.93 223.33,528.39 223.50,529.90 223.67,531.47 223.83,533.08 224.00,534.74 224.17,536.45 224.34,538.21 224.50,540.01 224.67,541.85 224.84,543.73 225.00,545.65 225.17,547.61 225.34,549.59 225.51,551.60 225.67,553.63 225.84,555.68 226.01,557.75 226.18,559.84 226.34,561.93 226.51,564.02 226.68,566.11 226.85,568.20 227.01,570.28 227.18,572.34 227.35,574.38 227.52,576.40 227.68,578.39 227.85,580.35 228.02,582.26 228.18,584.13 228.35,585.96 228.52,587.72 228.69,589.43 228.85,591.08 229.02,592.66 229.19,594.17 229.36,595.60 229.52,596.95 229.69,598.22 229.86,599.40 230.03,600.49 230.19,601.48 230.36,602.38 230.53,603.18 230.70,603.88 230.86,604.47 231.03,604.96 231.20,605.34 231.37,605.61 231.53,605.78 231.70,605.83 231.87,605.78 232.03,605.62 232.20,605.35 232.37,604.97 232.54,604.49 232.70,603.91 232.87,603.22 233.04,602.43 233.21,601.55 233.37,600.57 233.54,599.50 233.71,598.34 233.88,597.09 234.04,595.76 234.21,594.35 234.38,592.87 234.55,591.31 234.71,589.69 234.88,588.01 235.05,586.27 235.22,584.47 235.38,582.63 235.55,580.75 235.72,578.82 235.88,576.87 236.05,574.88 236.22,572.87 236.39,570.84 236.55,568.79 236.72,566.74 236.89,564.68 237.06,562.62 237.22,560.56 237.39,558.51 237.56,556.47 237.73,554.45 237.89,552.45 238.06,550.47 238.23,548.52 238.40,546.60 238.56,544.71 238.73,542.86 238.90,541.05 239.06,539.27 239.23,537.54 239.40,535.86 239.57,534.22 239.73,532.63 239.90,531.10 240.07,529.61 240.24,528.17 240.40,526.79 240.57,525.46 240.74,524.18 240.91,522.96 241.07,521.79 241.24,520.68 241.41,519.62 241.58,518.61 241.74,517.66 241.91,516.75 242.08,515.90 242.25,515.10 242.41,514.35 242.58,513.65 242.75,513.00 242.91,512.39 243.08,511.83 243.25,511.32 243.42,510.85 243.58,510.42 243.75,510.04 243.92,509.69 244.09,509.39 244.25,509.13 244.42,508.91 244.59,508.73 244.76,508.59 244.92,508.48 245.09,508.42 245.26,508.39 245.43,508.40 245.59,508.44 245.76,508.53 245.93,508.65 246.10,508.82 246.26,509.02 246.43,509.26 246.60,509.54 246.76,509.86 246.93,510.22 247.10,510.63 247.27,511.08 247.43,511.57 247.60,512.11 247.77,512.69 247.94,513.32 248.10,514.00 248.27,514.72 248.44,515.50 248.61,516.32 248.77,517.20 248.94,518.13 249.11,519.11 249.28,520.14 249.44,521.23 249.61,522.37 249.78,523.57 249.94,524.82 250.11,526.12 250.28,527.47 250.45,528.88 250.61,530.35 250.78,531.86 250.95,533.42 251.12,535.04 251.28,536.70 251.45,538.40 251.62,540.15 251.79,541.95 251.95,543.78 252.12,545.65 252.29,547.56 252.46,549.49 252.62,551.46 252.79,553.45 252.96,555.46 253.13,557.49 253.29,559.53 253.46,561.59 253.63,563.65 253.79,565.71 253.96,567.77 254.13,569.82 254.30,571.85 254.46,573.88 254.63,575.88 254.80,577.85 254.97,579.79 255.13,581.70 255.30,583.56 255.47,585.38 255.64,587.15 255.80,588.86 255.97,590.51 256.14,592.10 256.31,593.62 256.47,595.07 256.64,596.44 256.81,597.72 256.98,598.93 257.14,600.05 257.31,601.07 257.48,602.00 257.64,602.84 257.81,603.58 257.98,604.21 258.15,604.74 258.31,605.17 258.48,605.49 258.65,605.71 258.82,605.82 258.98,605.82 259.15,605.71 259.32,605.49 259.49,605.17 259.65,604.75 259.82,604.22 259.99,603.58 260.16,602.85 260.32,602.01 260.49,601.08 260.66,600.05 260.82,598.94 260.99,597.73 261.16,596.44 261.33,595.07 261.49,593.62 261.66,592.09 261.83,590.50 262.00,588.83 262.16,587.11 262.33,585.33 262.50,583.50 262.67,581.62 262.83,579.69 263.00,577.73 263.17,575.73 263.34,573.70 263.50,571.65 263.67,569.58 263.84,567.49 264.01,565.39 264.17,563.29 264.34,561.18 264.51,559.07 264.67,556.98 264.84,554.89 265.01,552.81 265.18,550.76 265.34,548.73 265.51,546.72 265.68,544.74 265.85,542.79 266.01,540.88 266.18,539.00 266.35,537.17 266.52,535.37 266.68,533.62 266.85,531.92 267.02,530.26 267.19,528.65 267.35,527.09 267.52,525.58 267.69,524.13 267.86,522.73 268.02,521.38 268.19,520.08 268.36,518.84 268.52,517.65 268.69,516.52 268.86,515.44 269.03,514.41 269.19,513.43 269.36,512.51 269.53,511.64 269.70,510.82 269.86,510.04 270.03,509.32 270.20,508.65 270.37,508.02 270.53,507.44 270.70,506.90 270.87,506.41 271.04,505.97 271.20,505.56 271.37,505.20 271.54,504.88 271.70,504.59 271.87,504.35 272.04,504.15 272.21,503.99 272.37,503.86 272.54,503.78 272.71,503.73 272.88,503.72 273.04,503.74 273.21,503.79 273.38,503.88 273.55,503.99 273.71,504.14 273.88,504.32 274.05,504.53 274.22,504.78 274.38,505.07 274.55,505.39 274.72,505.76 274.89,506.16 275.05,506.61 275.22,507.10 275.39,507.63 275.55,508.20 275.72,508.82 275.89,509.48 276.06,510.18 276.22,510.92 276.39,511.70 276.56,512.51 276.73,513.35 276.89,514.23 277.06,515.12 277.23,516.04 277.40,516.97 277.56,517.91 277.73,518.86 277.90,519.80 278.07,520.73 278.23,521.65 278.40,522.54 278.57,523.41 278.74,524.24 278.90,525.03 279.07,525.77 279.24,526.45 279.40,527.07 279.57,527.63 279.74,528.12 279.91,528.54 280.07,528.87 280.24,529.12 280.41,529.30 280.58,529.38 280.74,529.38 280.91,529.24 281.08,528.97 281.25,528.58 281.41,528.06 281.58,527.42 281.75,526.67 281.92,525.82 282.08,524.87 282.25,523.84 282.42,522.74 282.58,521.58 282.75,520.37 282.92,519.13 283.09,517.86 283.25,516.58 283.42,515.30 283.59,514.02 283.76,512.77 283.92,511.55 284.09,510.36 284.26,509.22 284.43,508.13 284.59,507.09 284.76,506.12 284.93,505.21 285.10,504.37 285.26,503.59 285.43,502.88 285.60,502.23 285.77,501.66 285.93,501.14 286.10,500.69 286.27,500.30 286.43,499.96 286.60,499.68 286.77,499.46 286.94,499.28 287.10,499.16 287.27,499.08 287.44,499.05 287.61,499.07 287.77,499.14 287.94,499.26 288.11,499.43 288.28,499.66 288.44,499.95 288.61,500.29 288.78,500.69 288.95,501.16 289.11,501.70 289.28,502.30 289.45,502.98 289.62,503.73 289.78,504.54 289.95,505.43 290.12,506.39 290.28,507.41 290.45,508.50 290.62,509.64 290.79,510.83 290.95,512.06 291.12,513.33 291.29,514.61 291.46,515.91 291.62,517.21 291.79,518.49 291.96,519.75 292.13,520.96 292.29,522.12 292.46,523.22 292.63,524.23 292.80,525.15 292.96,525.97 293.13,526.67 293.30,527.25 293.46,527.70 293.63,528.01 293.80,528.19 293.97,528.22 294.13,528.12 294.30,527.90 294.47,527.57 294.64,527.11 294.80,526.55 294.97,525.88 295.14,525.12 295.31,524.28 295.47,523.36 295.64,522.38 295.81,521.34 295.98,520.27 296.14,519.17 296.31,518.05 296.48,516.92 296.65,515.80 296.81,514.69 296.98,513.61 297.15,512.56 297.31,511.56 297.48,510.59 297.65,509.68 297.82,508.83 297.98,508.03 298.15,507.30 298.32,506.62 298.49,506.01 298.65,505.46 298.82,504.97 298.99,504.54 299.16,504.16 299.32,503.84 299.49,503.57 299.66,503.35 299.83,503.18 299.99,503.06 300.16,502.98 300.33,502.94 300.50,502.95 300.66,502.98 300.83,503.05 301.00,503.15 301.16,503.29 301.33,503.45 301.50,503.66 301.67,503.90 301.83,504.17 302.00,504.49 302.17,504.85 302.34,505.25 302.50,505.70 302.67,506.19 302.84,506.72 303.01,507.30 303.17,507.92 303.34,508.58 303.51,509.27 303.68,510.01 303.84,510.77 304.01,511.56 304.18,512.37 304.34,513.20 304.51,514.03 304.68,514.87 304.85,515.71 305.01,516.53 305.18,517.33 305.35,518.10 305.52,518.84 305.68,519.54 305.85,520.18 306.02,520.76 306.19,521.28 306.35,521.73 306.52,522.11 306.69,522.40 306.86,522.61 307.02,522.74 307.19,522.78 307.36,522.49 307.53,521.68 307.69,520.36 307.86,518.55 308.03,516.27 308.19,513.53 308.36,510.37 308.53,506.83 308.70,502.92 308.86,498.71 309.03,494.22 309.20,489.50 309.37,484.59 309.53,479.54 309.70,474.39 309.87,469.18 310.04,463.96 310.20,458.78 310.37,453.65 310.54,448.63 310.71,443.74 310.87,439.01 311.04,434.47 311.21,430.13 311.38,426.02 311.54,422.15 311.71,418.53 311.88,415.16 312.04,412.06 312.21,409.21 312.38,406.62 312.55,404.28 312.71,402.20 312.88,400.35 313.05,398.73 313.22,397.34 313.38,396.17 313.55,395.20 313.72,394.43 313.89,393.86 314.05,393.47 314.22,393.27 314.39,393.26 314.56,393.44 314.72,393.82 314.89,394.41 315.06,395.21 315.22,396.23 315.39,397.48 315.56,398.96 315.73,400.69 315.89,402.68 316.06,404.93 316.23,407.45 316.40,410.26 316.56,413.34 316.73,416.71 316.90,420.36 317.07,424.29 317.23,428.48 317.40,432.93 317.57,437.60 317.74,442.49 317.90,447.55 318.07,452.77 318.24,458.10 318.41,463.50 318.57,468.93 318.74,474.34 318.91,479.68 319.07,484.91 319.24,489.97 319.41,494.82 319.58,499.39 319.74,503.65 319.91,507.55 320.08,511.04 320.25,514.08 320.41,516.64 320.58,518.70 320.75,520.22 320.92,521.19 321.08,521.60 321.25,521.59 321.42,521.49 321.59,521.31 321.75,521.06 321.92,520.74 322.09,520.35 322.26,519.90 322.42,519.39 322.59,518.84 322.76,518.24 322.92,517.60 323.09,516.93 323.26,516.25 323.43,515.55 323.59,514.84 323.76,514.13 323.93,513.42 324.10,512.73 324.26,512.06 324.43,511.41 324.60,510.79 324.77,510.20 324.93,509.64 325.10,509.12 325.27,508.64 325.44,508.19 325.60,507.79 325.77,507.42 325.94,507.09 326.10,506.80 326.27,506.55 326.44,506.33 326.61,506.14 326.77,505.99 326.94,505.87 327.11,505.77 327.28,505.71 327.44,505.67 327.61,505.66 327.78,505.69 327.95,505.75 328.11,505.84 328.28,505.98 328.45,506.15 328.62,506.36 328.78,506.61 328.95,506.90 329.12,507.24 329.29,507.63 329.45,508.06 329.62,508.54 329.79,509.07 329.95,509.65 330.12,510.29 330.29,510.97 330.46,511.69 330.62,512.46 330.79,513.28 330.96,514.13 331.13,515.01 331.29,515.92 331.46,516.86 331.63,517.80 331.80,518.76 331.96,519.71 332.13,520.65 332.30,521.58 332.47,522.47 332.63,523.33 332.80,524.15 332.97,524.91 333.14,525.61 333.30,526.24 333.47,526.79 333.64,527.26 333.80,527.64 333.97,527.93 334.14,528.12 334.31,528.22 334.47,528.20 334.64,528.05 334.81,527.75 334.98,527.31 335.14,526.73 335.31,526.03 335.48,525.21 335.65,524.28 335.81,523.25 335.98,522.14 336.15,520.96 336.32,519.72 336.48,518.44 336.65,517.12 336.82,515.79 336.98,514.46 337.15,513.14 337.32,511.83 337.49,510.56 337.65,509.33 337.82,508.15 337.99,507.03 338.16,505.97 338.32,504.97 338.49,504.05 338.66,503.20 338.83,502.42 338.99,501.72 339.16,501.08 339.33,500.52 339.50,500.03 339.66,499.60 339.83,499.24 340.00,498.94 340.17,498.70 340.33,498.51 340.50,498.38 340.67,498.30 340.83,498.27 341.00,498.29 341.17,498.37 341.34,498.49 341.50,498.66 341.67,498.88 341.84,499.16 342.01,499.49 342.17,499.89 342.34,500.34 342.51,500.86 342.68,501.44 342.84,502.09 343.01,502.81 343.18,503.60 343.35,504.45 343.51,505.37 343.68,506.36 343.85,507.41 344.02,508.52 344.18,509.69 344.35,510.90 344.52,512.15 344.68,513.43 344.85,514.73 345.02,516.04 345.19,517.36 345.35,518.66 345.52,519.94 345.69,521.19 345.86,522.39 346.02,523.53 346.19,524.60 346.36,525.58 346.53,526.47 346.69,527.26 346.86,527.93 347.03,528.48 347.20,528.91 347.36,529.20 347.53,529.36 347.70,529.39 347.86,529.29 348.03,529.09 348.20,528.78 348.37,528.37 348.53,527.86 348.70,527.26 348.87,526.57 349.04,525.81 349.20,524.97 349.37,524.08 349.54,523.14 349.71,522.15 349.87,521.13 350.04,520.09 350.21,519.04 350.38,517.99 350.54,516.94 350.71,515.91 350.88,514.90 351.05,513.93 351.21,512.98 351.38,512.08 351.55,511.23 351.71,510.42 351.88,509.66 352.05,508.96 352.22,508.32 352.38,507.72 352.55,507.19 352.72,506.70 352.89,506.27 353.05,505.90 353.22,505.57 353.39,505.28 353.56,505.05 353.72,504.86 353.89,504.71 354.06,504.60 354.23,504.53 354.39,504.50 354.56,504.50 354.73,504.54 354.90,504.60 355.06,504.70 355.23,504.83 355.40,504.98 355.56,505.18 355.73,505.40 355.90,505.67 356.07,505.97 356.23,506.31 356.40,506.69 356.57,507.11 356.74,507.57 356.90,508.07 357.07,508.62 357.24,509.20 357.41,509.82 357.57,510.48 357.74,511.17 357.91,511.89 358.08,512.63 358.24,513.40 358.41,514.17 358.58,514.96 358.74,515.75 358.91,516.54 359.08,517.31 359.25,518.06 359.41,518.79 359.58,519.48 359.75,520.13 359.92,520.74 360.08,521.29 360.25,521.78 360.42,522.20 360.59,522.55 360.75,522.82 360.92,523.02 361.09,523.13 361.26,523.17 361.42,522.82 361.59,521.91 361.76,520.44 361.93,518.43 362.09,515.90 362.26,512.87 362.43,509.40 362.59,505.50 362.76,501.24 362.93,496.64 363.10,491.77 363.26,486.67 363.43,481.40 363.60,476.00 363.77,470.53 363.93,465.03 364.10,459.56 364.27,454.16 364.44,448.87 364.60,443.72 364.77,438.75 364.94,433.99 365.11,429.46 365.27,425.18 365.44,421.17 365.61,417.44 365.78,414.00 365.94,410.84 366.11,407.96 366.28,405.37 366.44,403.06 366.61,401.02 366.78,399.23 366.95,397.70 367.11,396.41 367.28,395.35 367.45,394.52 367.62,393.89 367.78,393.48 367.95,393.27 368.12,393.26 368.29,393.46 368.45,393.85 368.62,394.46 368.79,395.27 368.96,396.30 369.12,397.56 369.29,399.06 369.46,400.81 369.62,402.81 369.79,405.08 369.96,407.62 370.13,410.44 370.29,413.54 370.46,416.93 370.63,420.60 370.80,424.55 370.96,428.75 371.13,433.21 371.30,437.90 371.47,442.80 371.63,447.88 371.80,453.10 371.97,458.43 372.14,463.84 372.30,469.27 372.47,474.67 372.64,480.01 372.81,485.23 372.97,490.28 373.14,495.11 373.31,499.67 373.47,503.90 373.64,507.78 373.81,511.24 373.98,514.25 374.14,516.79 374.31,518.81 374.48,520.30 374.65,521.23 374.81,521.61 374.98,521.58 375.15,521.48 375.32,521.30 375.48,521.04 375.65,520.72 375.82,520.33 375.99,519.87 376.15,519.36 376.32,518.80 376.49,518.20 376.66,517.56 376.82,516.89 376.99,516.20 377.16,515.50 377.32,514.79 377.49,514.08 377.66,513.38 377.83,512.69 377.99,512.02 378.16,511.37 378.33,510.75 378.50,510.16 378.66,509.61 378.83,509.09 379.00,508.61 379.17,508.17 379.33,507.76 379.50,507.40 379.67,507.07 379.84,506.78 380.00,506.53 380.17,506.31 380.34,506.13 380.50,505.98 380.67,505.86 380.84,505.77 381.01,505.71 381.17,505.67 381.34,505.66 381.51,505.69 381.68,505.75 381.84,505.85 382.01,505.98 382.18,506.16 382.35,506.37 382.51,506.62 382.68,506.92 382.85,507.26 383.02,507.65 383.18,508.09 383.35,508.57 383.52,509.11 383.69,509.69 383.85,510.33 384.02,511.01 384.19,511.74 384.35,512.51 384.52,513.33 384.69,514.18 384.86,515.07 385.02,515.98 385.19,516.91 385.36,517.86 385.53,518.82 385.69,519.77 385.86,520.71 386.03,521.63 386.20,522.53 386.36,523.39 386.53,524.20 386.70,524.96 386.87,525.65 387.03,526.28 387.20,526.82 387.37,527.29 387.54,527.66 387.70,527.94 387.87,528.13 388.04,528.22 388.20,528.20 388.37,528.03 388.54,527.72 388.71,527.27 388.87,526.69 389.04,525.98 389.21,525.15 389.38,524.22 389.54,523.18 389.71,522.07 389.88,520.88 390.05,519.64 390.21,518.35 390.38,517.04 390.55,515.71 390.72,514.38 390.88,513.05 391.05,511.75 391.22,510.48 391.38,509.26 391.55,508.08 391.72,506.96 391.89,505.90 392.05,504.91 392.22,504.00 392.39,503.15 392.56,502.38 392.72,501.68 392.89,501.05 393.06,500.49 393.23,500.00 393.39,499.58 393.56,499.22 393.73,498.92 393.90,498.68 394.06,498.50 394.23,498.37 394.40,498.30 394.57,498.27 394.73,498.30 394.90,498.37 395.07,498.50 395.23,498.67 395.40,498.90 395.57,499.18 395.74,499.52 395.90,499.91 396.07,500.37 396.24,500.89 396.41,501.48 396.57,502.13 396.74,502.86 396.91,503.65 397.08,504.51 397.24,505.43 397.41,506.43 397.58,507.48 397.75,508.59 397.91,509.76 398.08,510.97 398.25,512.23 398.42,513.51 398.58,514.81 398.75,516.13 398.92,517.44 399.08,518.74 399.25,520.02 399.42,521.27 399.59,522.46 399.75,523.60 399.92,524.66 400.09,525.64 400.26,526.52 400.42,527.30 400.59,527.97 400.76,528.51 400.93,528.93 401.09,529.22 401.26,529.37 401.43,529.38 401.60,529.28 401.76,529.07 401.93,528.76 402.10,528.34 402.26,527.83 402.43,527.22 402.60,526.53 402.77,525.76 402.93,524.92 403.10,524.02 403.27,523.07 403.44,522.09 403.60,521.07 403.77,520.03 403.94,518.98 404.11,517.92 404.27,516.88 404.44,515.85 404.61,514.84 404.78,513.87 404.94,512.93 405.11,512.03 405.28,511.17 405.45,510.37 405.61,509.62 405.78,508.92 405.95,508.28 406.11,507.69 406.28,507.16 406.45,506.68 406.62,506.25 406.78,505.87 406.95,505.55 407.12,505.27 407.29,505.04 407.45,504.85 407.62,504.70 407.79,504.59 407.96,504.52 408.12,504.50 408.29,504.50 408.46,504.54 408.63,504.61 408.79,504.71 408.96,504.83 409.13,504.99 409.30,505.19 409.46,505.42 409.63,505.68 409.80,505.99 409.96,506.33 410.13,506.71 410.30,507.13 410.47,507.60 410.63,508.10 410.80,508.65 410.97,509.24 411.14,509.86 411.30,510.52 411.47,511.21 411.64,511.93 411.81,512.68 411.97,513.44 412.14,514.22 412.31,515.01 412.48,515.80 412.64,516.58 412.81,517.36 412.98,518.11 413.14,518.83 413.31,519.52 413.48,520.17 413.65,520.77 413.81,521.32 413.98,521.80 414.15,522.22 414.32,522.57 414.48,522.84 414.65,523.03 414.82,523.14 414.99,523.16 415.15,522.78 415.32,521.84 415.49,520.33 415.66,518.29 415.82,515.72 415.99,512.67 416.16,509.16 416.33,505.25 416.49,500.96 416.66,496.35 416.83,491.46 416.99,486.35 417.16,481.06 417.33,475.66 417.50,470.19 417.66,464.69 417.83,459.22 418.00,453.83 418.17,448.54 418.33,443.40 418.50,438.44 418.67,433.70 418.84,429.18 419.00,424.92 419.17,420.93 419.34,417.22 419.51,413.79 419.67,410.65 419.84,407.79 420.01,405.22 420.18,402.92 420.34,400.90 420.51,399.13 420.68,397.62 420.84,396.34 421.01,395.29 421.18,394.47 421.35,393.86 421.51,393.46 421.68,393.26 421.85,393.27 422.02,393.48 422.18,393.89 422.35,394.50 422.52,395.33 422.69,396.37 422.85,397.65 423.02,399.16 423.19,400.92 423.36,402.94 423.52,405.23 423.69,407.79 423.86,410.63 424.02,413.75 424.19,417.15 424.36,420.84 424.53,424.80 424.69,429.03 424.86,433.50 425.03,438.20 425.20,443.11 425.36,448.20 425.53,453.43 425.70,458.77 425.87,464.18 426.03,469.60 426.20,475.01 426.37,480.34 426.54,485.55 426.70,490.59 426.87,495.40 427.04,499.94 427.21,504.16 427.37,508.01 427.54,511.44 427.71,514.43 427.87,516.93 428.04,518.92 428.21,520.37 428.38,521.27 428.54,521.61 428.71,521.58 428.88,521.47 429.05,521.28 429.21,521.03 429.38,520.70 429.55,520.30 429.72,519.84 429.88,519.33 430.05,518.76 430.22,518.16 430.39,517.52 430.55,516.85 430.72,516.16 430.89,515.46 431.06,514.75 431.22,514.04 431.39,513.34 431.56,512.65 431.72,511.98 431.89,511.33 432.06,510.71 432.23,510.13 432.39,509.57 432.56,509.06 432.73,508.58 432.90,508.14 433.06,507.74 433.23,507.38 433.40,507.05 433.57,506.77 433.73,506.52 433.90,506.30 434.07,506.12 434.24,505.97 434.40,505.85 434.57,505.76 434.74,505.70 434.90,505.67 435.07,505.66 435.24,505.69 435.41,505.76 435.57,505.86 435.74,505.99 435.91,506.17 436.08,506.39 436.24,506.64 436.41,506.94 436.58,507.29 436.75,507.68 436.91,508.12 437.08,508.60 437.25,509.14 437.42,509.73 437.58,510.37 437.75,511.05 437.92,511.79 438.09,512.56 438.25,513.38 438.42,514.24 438.59,515.12 438.75,516.04 438.92,516.97 439.09,517.92 439.26,518.88 439.42,519.83 439.59,520.77 439.76,521.69 439.93,522.58 440.09,523.44 440.26,524.25 440.43,525.00 440.60,525.69 440.76,526.31 440.93,526.85 441.10,527.31 441.27,527.68 441.43,527.96 441.60,528.14 441.77,528.22 441.94,528.19 442.10,528.02 442.27,527.70 442.44,527.24 442.60,526.65 442.77,525.93 442.94,525.10 443.11,524.15 443.27,523.12 443.44,522.00 443.61,520.81 443.78,519.56 443.94,518.27 444.11,516.96 444.28,515.63 444.45,514.29 444.61,512.97 444.78,511.67 444.95,510.41 445.12,509.18 445.28,508.01 445.45,506.89 445.62,505.84 445.78,504.85 445.95,503.94 446.12,503.10 446.29,502.33 446.45,501.63 446.62,501.01 446.79,500.46 446.96,499.97 447.12,499.56 447.29,499.20 447.46,498.91 447.63,498.67 447.79,498.49 447.96,498.37 448.13,498.29 448.30,498.27 448.46,498.30 448.63,498.38 448.80,498.51 448.97,498.68 449.13,498.91 449.30,499.20 449.47,499.54 449.63,499.94 449.80,500.40 449.97,500.93 450.14,501.52 450.30,502.18 450.47,502.90 450.64,503.70 450.81,504.56 450.97,505.49 451.14,506.49 451.31,507.55 451.48,508.67 451.64,509.84 451.81,511.05 451.98,512.30 452.15,513.59 452.31,514.89 452.48,516.21 452.65,517.52 452.82,518.82 452.98,520.10 453.15,521.34 453.32,522.54 453.48,523.67 453.65,524.72 453.82,525.70 453.99,526.57 454.15,527.35 454.32,528.01 454.49,528.54 454.66,528.95 454.82,529.23 454.99,529.37 455.16,529.38 455.33,529.27 455.49,529.06 455.66,528.74 455.83,528.31 456.00,527.79 456.16,527.18 456.33,526.48 456.50,525.71 456.66,524.87 456.83,523.96 457.00,523.01 457.17,522.02 457.33,521.00 457.50,519.96 457.67,518.91 457.84,517.86 458.00,516.81 458.17,515.79 458.34,514.78 458.51,513.81 458.67,512.87 458.84,511.97 459.01,511.12 459.18,510.32 459.34,509.57 459.51,508.88 459.68,508.24 459.85,507.65 460.01,507.12 460.18,506.65 460.35,506.22 460.51,505.85 460.68,505.53 460.85,505.25 461.02,505.02 461.18,504.84 461.35,504.69 461.52,504.59 461.69,504.52 461.85,504.50 462.02,504.51 462.19,504.55 462.36,504.61 462.52,504.71 462.69,504.84 462.86,505.01 463.03,505.20 463.19,505.43 463.36,505.70 463.53,506.01 463.70,506.35 463.86,506.74 464.03,507.16 464.20,507.63 464.36,508.14 464.53,508.69 464.70,509.27 464.87,509.90 465.03,510.56 465.20,511.26 465.37,511.98 465.54,512.73 465.70,513.49 465.87,514.27 466.04,515.06 466.21,515.85 466.37,516.63 466.54,517.40 466.71,518.16 466.88,518.88 467.04,519.57 467.21,520.21 467.38,520.81 467.54,521.35 467.71,521.83 467.88,522.24 468.05,522.59 468.21,522.85 468.38,523.04 468.55,523.14 468.72,523.16 468.88,522.79 469.05,521.91 469.22,520.52 469.39,518.65 469.55,516.32 469.72,513.54 469.89,510.35 470.06,506.78 470.22,502.86 470.39,498.64 470.56,494.15 470.73,489.44 470.89,484.55 471.06,479.52 471.23,474.41 471.39,469.25 471.56,464.08 471.73,458.94 471.90,453.88 472.06,448.92 472.23,444.10 472.40,439.44 472.57,434.97 472.73,430.70 472.90,426.67 473.07,422.87 473.24,419.32 473.40,416.02 473.57,412.99 473.74,410.20 473.91,407.68 474.07,405.40 474.24,403.37 474.41,401.58 474.58,400.01 474.74,398.67 474.91,397.54 475.08,396.61 475.24,395.88 475.41,395.34 475.58,394.99 475.75,394.82 475.91,394.83 476.08,395.02 476.25,395.39 476.42,395.95 476.58,396.70 476.75,397.65 476.92,398.80 477.09,400.16 477.25,401.75 477.42,403.56 477.59,405.61 477.76,407.90 477.92,410.44 478.09,413.24 478.26,416.29 478.42,419.60 478.59,423.16 478.76,426.96 478.93,431.00 479.09,435.27 479.26,439.74 479.43,444.39 479.60,449.20 479.76,454.14 479.93,459.19 480.10,464.30 480.27,469.44 480.43,474.56 480.60,479.64 480.77,484.62 480.94,489.46 481.10,494.11 481.27,498.55 481.44,502.71 481.61,506.56 481.77,510.07 481.94,513.19 482.11,515.90 482.27,518.16 482.44,519.96 482.61,521.27 482.78,522.08 482.94,522.39 483.11,522.36 483.28,522.25 483.45,522.06 483.61,521.80 483.78,521.47 483.95,521.07 484.12,520.61 484.28,520.08 484.45,519.50 484.62,518.88 484.79,518.21 484.95,517.51 485.12,516.77 485.29,516.02 485.46,515.25 485.62,514.46 485.79,513.68 485.96,512.90 486.12,512.13 486.29,511.37 486.46,510.64 486.63,509.92 486.79,509.23 486.96,508.58 487.13,507.96 487.30,507.37 487.46,506.82 487.63,506.31 487.80,505.84 487.97,505.40 488.13,505.01 488.30,504.65 488.47,504.33 488.64,504.05 488.80,503.80 488.97,503.59 489.14,503.40 489.30,503.25 489.47,503.13 489.64,503.04 489.81,502.98 489.97,502.95 490.14,502.94 490.31,502.96 490.48,503.02 490.64,503.10 490.81,503.21 490.98,503.36 491.15,503.53 491.31,503.74 491.48,503.98 491.65,504.25 491.82,504.55 491.98,504.89 492.15,505.26 492.32,505.66 492.49,506.10 492.65,506.58 492.82,507.09 492.99,507.64 493.15,508.22 493.32,508.84 493.49,509.51 493.66,510.21 493.82,510.95 493.99,511.73 494.16,512.55 494.33,513.42 494.49,514.32 494.66,515.27 494.83,516.26 495.00,517.29 495.16,518.37 495.33,519.49 495.50,520.65 495.67,521.86 495.83,523.10 496.00,524.39 496.17,525.73 496.34,527.10 496.50,528.51 496.67,529.97 496.84,531.46 497.00,532.99 497.17,534.55 497.34,536.16 497.51,537.79 497.67,539.46 497.84,541.16 498.01,542.89 498.18,544.64 498.34,546.42 498.51,548.22 498.68,550.04 498.85,551.88 499.01,553.73 499.18,555.60 499.35,557.48 499.52,559.36 499.68,561.25 499.85,563.14 500.02,565.03 500.18,566.91 500.35,568.78 500.52,570.64 500.69,572.49 500.85,574.32 501.02,576.12 501.19,577.91 501.36,579.66 501.52,581.38 501.69,583.07 501.86,584.72 502.03,586.32 502.19,587.88 502.36,589.40 502.53,590.86 502.70,592.27 502.86,593.62 503.03,594.91 503.20,596.14 503.37,597.31 503.53,598.40 503.70,599.43"/>
<line x1="278.5" y1="504.9" x2="464.3" y2="504.9" stroke="#1c24c8" stroke-width="2.4"/>
<line x1="421.9" y1="537.6" x2="421.9" y2="510" stroke="#1c24c8" stroke-width="2"/>
<polyline points="418.2,514 421.9,507.8 425.6,514" fill="none" stroke="#1c24c8" stroke-width="2"/>
<line x1="278.3" y1="494" x2="278.3" y2="506.5" stroke="#e040a8" stroke-width="1.6"/>
<polyline points="276.3,496 278.3,493.2 280.3,496" fill="none" stroke="#e040a8" stroke-width="1.3"/>
<polyline points="276.3,504.5 278.3,507.3 280.3,504.5" fill="none" stroke="#e040a8" stroke-width="1.3"/>
<line x1="298.7" y1="503" x2="298.7" y2="543" stroke="#e0182c" stroke-width="2.4"/>
<polygon points="298.7,497.3 303.2,504.5 294.2,504.5" fill="#e0182c"/>
<polyline points="294.2,536.5 298.7,543.8 303.2,536.5" fill="none" stroke="#e0182c" stroke-width="2.2"/>
</g>
<line x1="74" y1="395.6" x2="112.3" y2="395.6" stroke="#1c8a2c" stroke-width="2.2"/>
<line x1="73.5" y1="416" x2="113" y2="416" stroke="#6c32bc" stroke-width="2.2" stroke-dasharray="3.6 3.6"/>
<text x="115.60" y="400.60" font-size="17.2" fill="#111" stroke="#111" stroke-width="0.4" textLength="116.60">Planar Average</text>
<text x="115.60" y="420.90" font-size="17.2" fill="#111" stroke="#111" stroke-width="0.4" textLength="161.20">Macroscopic Average</text>
<text x="84.60" y="484.80" font-size="16" fill="#be1e3a" stroke="#be1e3a" stroke-width="0.4">E</text>
<text x="95.40" y="491.00" font-size="10" fill="#be1e3a" stroke="#be1e3a" stroke-width="0.4">F</text>
<text x="106.40" y="484.70" font-size="16.5" fill="#be1e3a" stroke="#be1e3a" stroke-width="0.4" textLength="71.60">(TiN-bulk)</text>
<text x="198.50" y="478.10" font-size="18.3" fill="#d42c7c" stroke="#d42c7c" stroke-width="0.2" textLength="24.10">ΔE</text>
<text x="222.30" y="468.80" font-size="12" fill="#d8408a" stroke="#d8408a" stroke-width="0.15" textLength="23.50">DFT</text>
<text x="252.20" y="477.90" font-size="19.2" fill="#d42c7c" stroke="#d42c7c" stroke-width="0.4" textLength="43.60">= 2.5</text>
<text x="305.60" y="538.20" font-size="15" fill="#c42838" stroke="#c42838" stroke-width="0.4" textLength="20.00">ΔV</text>
<text x="370.60" y="559.20" font-size="16" fill="#2a2cb4" stroke="#2a2cb4" stroke-width="0.4">E</text>
<text x="380.60" y="566.60" font-size="9.8" fill="#2a2cb4" stroke="#2a2cb4" stroke-width="0.4" textLength="22.60">VBM</text>
<text x="402.40" y="559.20" font-size="16.3" fill="#2a2cb4" stroke="#2a2cb4" stroke-width="0.4" textLength="91.40">(AlScN-bulk)</text>
<path d="M68.5,382.1 H504.2 V615.8 H68.5 Z" fill="none" stroke="#111" stroke-width="2.1"/>
<line x1="64.5" y1="615.75" x2="68.5" y2="615.75" stroke="#111" stroke-width="2"/>
<line x1="62.5" y1="596.30" x2="68.5" y2="596.30" stroke="#111" stroke-width="2"/>
<text x="59.00" y="601.20" font-size="17" fill="#111" stroke="#111" stroke-width="0.4" text-anchor="end">-10</text>
<line x1="64.5" y1="576.85" x2="68.5" y2="576.85" stroke="#111" stroke-width="2"/>
<line x1="62.5" y1="557.40" x2="68.5" y2="557.40" stroke="#111" stroke-width="2"/>
<text x="59.00" y="562.30" font-size="17" fill="#111" stroke="#111" stroke-width="0.4" text-anchor="end">0</text>
<line x1="64.5" y1="537.95" x2="68.5" y2="537.95" stroke="#111" stroke-width="2"/>
<line x1="62.5" y1="518.50" x2="68.5" y2="518.50" stroke="#111" stroke-width="2"/>
<text x="59.00" y="523.40" font-size="17" fill="#111" stroke="#111" stroke-width="0.4" text-anchor="end">10</text>
<line x1="64.5" y1="499.05" x2="68.5" y2="499.05" stroke="#111" stroke-width="2"/>
<line x1="62.5" y1="479.60" x2="68.5" y2="479.60" stroke="#111" stroke-width="2"/>
<text x="59.00" y="484.50" font-size="17" fill="#111" stroke="#111" stroke-width="0.4" text-anchor="end">20</text>
<line x1="64.5" y1="460.15" x2="68.5" y2="460.15" stroke="#111" stroke-width="2"/>
<line x1="62.5" y1="440.70" x2="68.5" y2="440.70" stroke="#111" stroke-width="2"/>
<text x="59.00" y="445.60" font-size="17" fill="#111" stroke="#111" stroke-width="0.4" text-anchor="end">30</text>
<line x1="64.5" y1="421.25" x2="68.5" y2="421.25" stroke="#111" stroke-width="2"/>
<line x1="62.5" y1="401.80" x2="68.5" y2="401.80" stroke="#111" stroke-width="2"/>
<text x="59.00" y="406.70" font-size="17" fill="#111" stroke="#111" stroke-width="0.4" text-anchor="end">40</text>
<line x1="64.5" y1="382.35" x2="68.5" y2="382.35" stroke="#111" stroke-width="2"/>
<line x1="68.50" y1="615.8" x2="68.50" y2="621.8" stroke="#111" stroke-width="2"/>
<text x="68.50" y="639.00" font-size="17" fill="#111" stroke="#111" stroke-width="0.4" text-anchor="middle">0</text>
<line x1="102.50" y1="615.8" x2="102.50" y2="619.8" stroke="#111" stroke-width="2"/>
<line x1="136.50" y1="615.8" x2="136.50" y2="621.8" stroke="#111" stroke-width="2"/>
<text x="136.50" y="639.00" font-size="17" fill="#111" stroke="#111" stroke-width="0.4" text-anchor="middle">10</text>
<line x1="170.50" y1="615.8" x2="170.50" y2="619.8" stroke="#111" stroke-width="2"/>
<line x1="204.50" y1="615.8" x2="204.50" y2="621.8" stroke="#111" stroke-width="2"/>
<text x="204.50" y="639.00" font-size="17" fill="#111" stroke="#111" stroke-width="0.4" text-anchor="middle">20</text>
<line x1="238.50" y1="615.8" x2="238.50" y2="619.8" stroke="#111" stroke-width="2"/>
<line x1="272.50" y1="615.8" x2="272.50" y2="621.8" stroke="#111" stroke-width="2"/>
<text x="272.50" y="639.00" font-size="17" fill="#111" stroke="#111" stroke-width="0.4" text-anchor="middle">30</text>
<line x1="306.50" y1="615.8" x2="306.50" y2="619.8" stroke="#111" stroke-width="2"/>
<line x1="340.50" y1="615.8" x2="340.50" y2="621.8" stroke="#111" stroke-width="2"/>
<text x="340.50" y="639.00" font-size="17" fill="#111" stroke="#111" stroke-width="0.4" text-anchor="middle">40</text>
<line x1="374.50" y1="615.8" x2="374.50" y2="619.8" stroke="#111" stroke-width="2"/>
<line x1="408.50" y1="615.8" x2="408.50" y2="621.8" stroke="#111" stroke-width="2"/>
<text x="408.50" y="639.00" font-size="17" fill="#111" stroke="#111" stroke-width="0.4" text-anchor="middle">50</text>
<line x1="442.50" y1="615.8" x2="442.50" y2="619.8" stroke="#111" stroke-width="2"/>
<line x1="476.50" y1="615.8" x2="476.50" y2="621.8" stroke="#111" stroke-width="2"/>
<text x="476.50" y="639.00" font-size="17" fill="#111" stroke="#111" stroke-width="0.4" text-anchor="middle">60</text>
<text x="250.50" y="674.80" font-size="22" fill="#111" stroke="#111" stroke-width="0.4" textLength="80.60">Z (Bohr)</text>
<text transform="translate(25.7,624.1) rotate(-90)" font-size="22.3" fill="#111" stroke="#111" stroke-width="0.4" textLength="246.4">Electrostatic potential (V)</text>
</svg></body></html>
